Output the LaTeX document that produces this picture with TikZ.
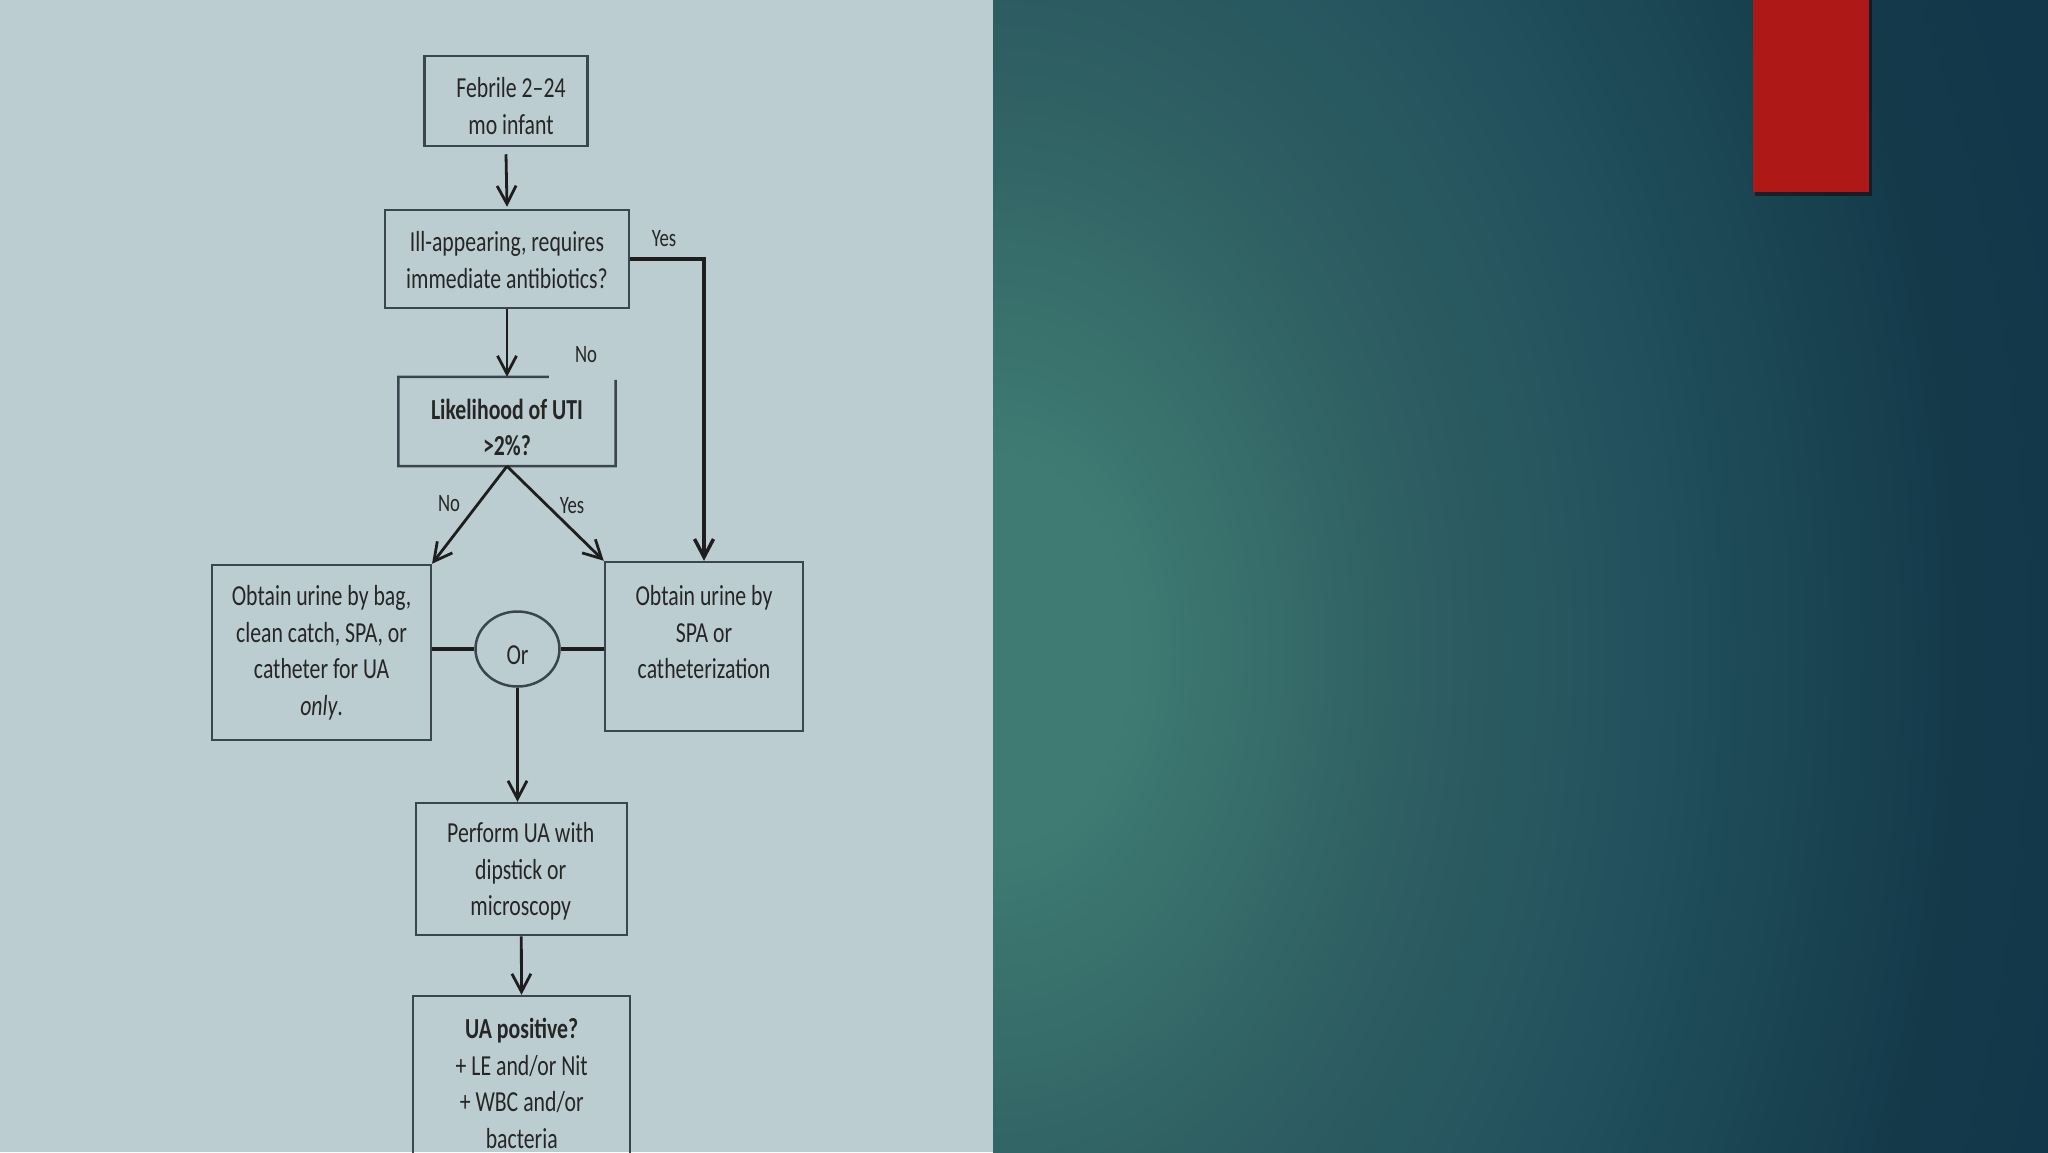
\documentclass[tikz,border=0pt]{standalone}
\usepackage{fontspec}
\setmainfont{Carlito}[FakeStretch=0.75]
\usetikzlibrary{arrows.meta,shapes.geometric,calc}
\definecolor{boxc}{HTML}{3A4550}
\definecolor{linec}{HTML}{1E1E1E}
\definecolor{txtc}{HTML}{262626}
\definecolor{leftbg}{HTML}{BCCDD1}
\definecolor{bgA}{HTML}{3F7B73}
\definecolor{bgB}{HTML}{2E5F62}
\definecolor{bgC}{HTML}{23525E}
\definecolor{bgD}{HTML}{143A4A}
\definecolor{bgE}{HTML}{12374A}
\definecolor{redc}{HTML}{AE1816}
\pgfdeclareradialshading{rightbg}{\pgfpoint{0bp}{0bp}}{color(0bp)=(bgA); color(3bp)=(bgA); color(9.5bp)=(bgB); color(14.5bp)=(bgC); color(22bp)=(bgD); color(25bp)=(bgE); color(50bp)=(bgE)}
\newcommand\fbody{\fontsize{29pt}{36.5pt}\selectfont}
\newcommand\flbl{\fontsize{25pt}{30pt}\selectfont}
\begin{document}
\begin{tikzpicture}[x=1pt,y=-1pt,
  box/.style={draw=boxc, line width=2.5pt, rectangle, inner sep=0pt},
  txt/.style={align=center, text=txtc, font=\fbody, inner sep=0pt},
  lbl/.style={text=txtc, font=\flbl, inner sep=0pt},
  arr/.style={draw=linec, line width=2.8pt, -{Straight Barb[length=18pt,width=19pt]}},
  link/.style={draw=linec, line width=4pt}]
\path[use as bounding box] (0,0) rectangle (2048,1152);
\clip (0,0) rectangle (2048,1152);
% backgrounds
\fill[leftbg] (0,0) rectangle (993,1152);
\begin{scope}
\clip (993,0) rectangle (2048,1152);
\shade[shading=rightbg] (-107,-900) rectangle (2093,2200);
\end{scope}
% red bar
\fill[black, opacity=0.45] (1755,0) rectangle (1872,196);
\fill[redc] (1753,0) rectangle (1869,192);
% boxes
\node[box, minimum width=163pt, minimum height=90pt] (feb) at (506,101) {};
\node[txt] (febt) at (511,106) {Febrile 2--24\\mo infant};
\node[box, minimum width=244pt, minimum height=98pt] (ill) at (507,259) {};
\node[txt] (illt) at (507,260) {Ill-appearing, requires\\immediate antibiotics?};
\node[minimum width=217pt, minimum height=89pt, inner sep=0pt] (lik) at (507,421.5) {};
\draw[boxc, line width=2.5pt] ($(lik.north west)!0.693!(lik.north east)$) -- (lik.north west) -- (lik.south west) -- (lik.south east) -- ([yshift=-3pt]lik.north east);
\node[txt, font=\fbody\bfseries] (likt) at (507,427.5) {Likelihood of UTI\\>2\%?};
\node[box, minimum width=219pt, minimum height=175pt] (lb) at (321.3,652.5) {};
\node[txt] (lbt) at (321.6,653) {Obtain urine by bag,\\clean catch, SPA, or\\catheter for UA\\\textit{only}.};
\node[box, minimum width=198pt, minimum height=169pt] (rb) at (704,646.5) {};
\node[txt] (rbt) at (704,632.5) {Obtain urine by\\SPA or\\catheterization};
\node[draw=boxc, line width=2.5pt, ellipse, minimum width=84pt, minimum height=75pt, inner sep=0pt] (or) at (517.5,649) {};
\node[txt] (ort) at (517.5,655) {Or};
\node[box, minimum width=211pt, minimum height=132pt] (perf) at (521.3,869) {};
\node[txt] (perft) at (520.7,871.5) {Perform UA with\\dipstick or\\microscopy};
\node[box, minimum width=217pt, minimum height=300pt] (ua) at (521.5,1146) {};
\node[txt] (uat) at (521.7,1083.5) {\textbf{UA positive?}\\+ LE and/or Nit\\+ WBC and/or\\bacteria};
% connectors
\draw[arr] ([yshift=-7pt]feb.south) -- ([yshift=2pt]ill.north);
\draw[arr] (ill.south) -- (lik.north);
\draw[arr, line width=3.5pt] (ill.east) -| (rb.north);
\draw[arr] (lik.south) -- (lb.north east);
\draw[arr] (lik.south) -- (rb.north west);
\draw[link] (or.west) -- (or.west -| lb.east);
\draw[link] (or.east) -- (or.east -| rb.west);
\draw[arr] (or.south) -- (or.south |- perf.north);
\draw[arr] (perf.south) -- (ua.north);
% labels
\node[lbl] (yes1) at (664,239) {Yes};
\node[lbl] (no1) at (586,355) {No};
\node[lbl] (no2) at (449,504) {No};
\node[lbl] (yes2) at (572,506) {Yes};
\end{tikzpicture}
\end{document}
